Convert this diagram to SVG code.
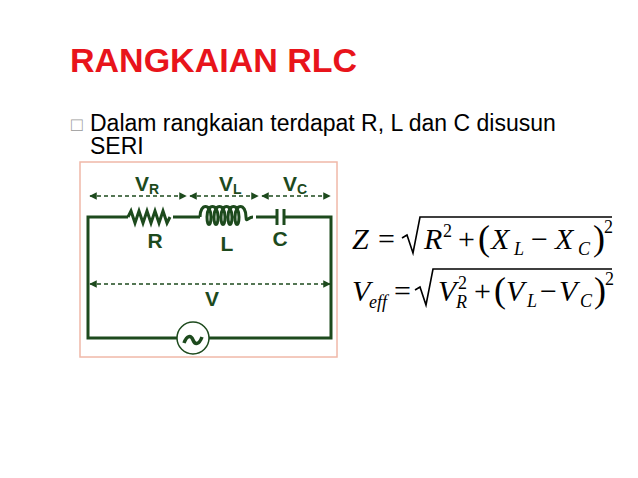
<svg xmlns="http://www.w3.org/2000/svg" width="638" height="478" viewBox="0 0 638 478">
<style>
.w{fill:none;stroke:#1d4a1d;stroke-width:3}
.d{fill:none;stroke:#1d4a1d;stroke-width:1.5;stroke-dasharray:4 3}
.cl{font-family:"Liberation Sans",Arial,sans-serif;font-weight:bold;fill:#1d4a1d;font-size:21px}
.m{font-family:"Liberation Serif","Times New Roman",serif;font-size:30px;fill:#000}
.i{font-style:italic}
.s{font-size:18px}
.r{fill:none;stroke:#000;stroke-width:1.6}
</style>
<defs>
<marker id="a" viewBox="0 0 10 10" refX="9" refY="5" markerWidth="5" markerHeight="5" orient="auto-start-reverse"><path d="M0,0L10,5L0,10z" fill="#1d4a1d"/></marker>
</defs>
<rect width="638" height="478" fill="#fff"/>
<text x="70" y="72" font-family="Liberation Sans,Arial,sans-serif" font-weight="bold" font-size="34" fill="#e8141b">RANGKAIAN RLC</text>
<text x="71" y="131" font-family="Liberation Sans,Arial,sans-serif" font-size="19" fill="#999">□</text>
<text x="90" y="131" font-family="Liberation Sans,Arial,sans-serif" font-size="23" fill="#000">Dalam rangkaian terdapat R, L dan C disusun</text>
<text x="90" y="154" font-family="Liberation Sans,Arial,sans-serif" font-size="23" fill="#000">SERI</text>
<g id="circuit">
<rect x="80" y="162" width="257" height="195" fill="#fff" stroke="#f0b8a8" stroke-width="1.5"/>
<path class="w" d="M128,217H88V338H177M209,338H331V217H285M276,217H256M200,217H173"/>
<path class="w" d="M128,217l3,-6l4,12l4,-12l4,12l4,-12l4,12l4,-12l4,12l4,-12l4,12l3,-6" stroke-width="2"/>
<path class="w" stroke-width="2" d="M200,217c0,-14 11,-14 11,0c0,10 -4,10 -4,0c0,-14 11,-14 11,0c0,10 -4,10 -4,0c0,-14 11,-14 11,0c0,10 -4,10 -4,0c0,-14 11,-14 11,0c0,10 -4,10 -4,0c0,-14 11,-14 11,0c0,10 -4,10 -4,0c0,-14 11,-14 11,0c0,6 2,0 7,0"/>
<path class="w" d="M277,209V225M284,209V225"/>
<circle cx="193" cy="338" r="16" fill="#fff" stroke="#1d4a1d" stroke-width="1.5"/>
<path d="M184,343c3,-8 7,-8 9,-3s6,5 9,-3" fill="none" stroke="#1d4a1d" stroke-width="3.5"/>
</g>
<g id="connectors">
<path class="d" d="M90,196H186" marker-start="url(#a)" marker-end="url(#a)"/>
<path class="d" d="M190,196H258" marker-start="url(#a)" marker-end="url(#a)"/>
<path class="d" d="M262,196H330" marker-start="url(#a)" marker-end="url(#a)"/>
<path class="d" d="M90,284H330" marker-start="url(#a)" marker-end="url(#a)"/>
</g>
<g id="labels">
<text x="135" y="191" class="cl">V<tspan font-size="14" dy="3">R</tspan></text>
<text x="219" y="191" class="cl">V<tspan font-size="14" dy="3">L</tspan></text>
<text x="283" y="191" class="cl">V<tspan font-size="14" dy="3">C</tspan></text>
<text x="155" y="248" class="cl" text-anchor="middle">R</text>
<text x="227" y="251" class="cl" text-anchor="middle">L</text>
<text x="280" y="246" class="cl" text-anchor="middle">C</text>
<text x="212" y="306" class="cl" text-anchor="middle">V</text>
</g>
<g id="formula1">
<text class="m"><tspan x="352" y="249" class="i">Z</tspan><tspan x="378" y="249">=</tspan>
<tspan x="424" y="249" class="i">R</tspan><tspan x="443" y="237" class="s">2</tspan><tspan x="458" y="249">+</tspan><tspan x="478" y="250" font-size="36">(</tspan><tspan x="491" y="249" class="i">X</tspan><tspan x="514" y="255" class="s i">L</tspan><tspan x="531" y="249">−</tspan><tspan x="555" y="249" class="i">X</tspan><tspan x="578" y="255" class="s i">C</tspan><tspan x="593" y="250" font-size="36">)</tspan><tspan x="604" y="233" class="s">2</tspan></text>
<path class="r" d="M402,238l5,-3l6,18l7,-36H612"/>
</g>
<g id="formula2">
<text class="m"><tspan x="352" y="301" class="i">V</tspan><tspan x="369" y="308" class="s i">eff</tspan><tspan x="394" y="301">=</tspan>
<tspan x="438" y="301" class="i">V</tspan><tspan x="458" y="289" class="s">2</tspan><tspan x="456" y="308" class="s i">R</tspan><tspan x="474" y="301">+</tspan><tspan x="494" y="302" font-size="36">(</tspan><tspan x="506" y="301" class="i">V</tspan><tspan x="527" y="307" class="s i">L</tspan><tspan x="540" y="301">−</tspan><tspan x="559" y="301" class="i">V</tspan><tspan x="580" y="307" class="s i">C</tspan><tspan x="594" y="302" font-size="36">)</tspan><tspan x="605" y="285" class="s">2</tspan></text>
<path class="r" d="M415,290l5,-3l6,18l7,-36H612"/>
</g>
</svg>
